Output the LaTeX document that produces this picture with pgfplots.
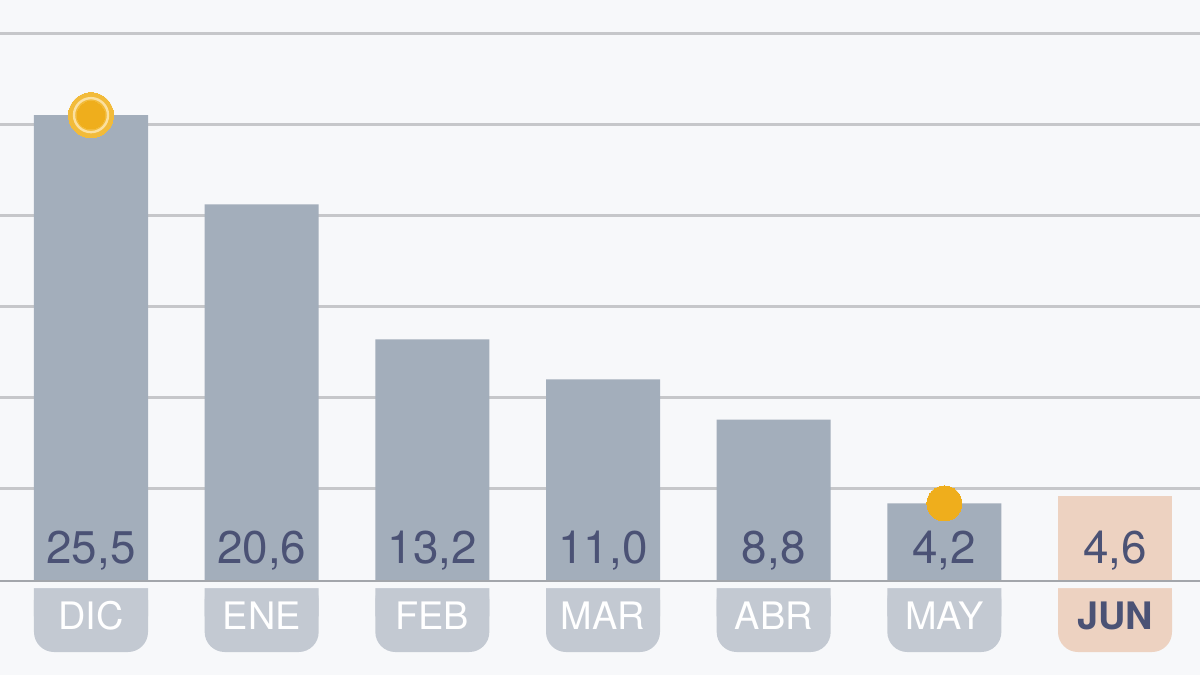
\documentclass[border=0pt]{standalone}
\usepackage{pgfplots}
\pgfplotsset{compat=1.18}
\usepackage{fontspec}
\setmainfont{TeX Gyre Heros}
\definecolor{bgc}{HTML}{F7F8FA}
\definecolor{gridc}{HTML}{C6C7CA}
\definecolor{basec}{HTML}{A3A6AB}
\definecolor{barc}{HTML}{A3AEBB}
\definecolor{tabc}{HTML}{C3C9D2}
\definecolor{junc}{HTML}{EDD2C1}
\definecolor{txtc}{HTML}{4B5275}
\definecolor{orA}{HTML}{F2BB3A}
\definecolor{orB}{HTML}{FBE0A0}
\definecolor{orC}{HTML}{EFAE1C}
\begin{document}
\begin{tikzpicture}[trim axis left, trim axis right]
\begin{axis}[
  scale only axis, width=600bp, height=337.5bp,
  xmin=-0.5332, xmax=6.498, ymin=-5.211, ymax=31.816,
  axis background/.style={fill=bgc},
  axis line style={draw=none}, tick style={draw=none},
  xtick=\empty, ytick={5,10,...,30}, yticklabels={},
  ymajorgrids, grid style={line width=1.5bp, color=gridc},
  clip=false,
]
% tabs (label backgrounds)
\addplot[ybar, bar width=0.668, bar shift=0pt, fill=tabc, draw=none, rounded corners=10bp]
  coordinates {(0,-3.95) (1,-3.95) (2,-3.95) (3,-3.95) (4,-3.95) (5,-3.95)};
\addplot[ybar, bar width=0.668, bar shift=0pt, fill=tabc, draw=none]
  coordinates {(0,-2) (1,-2) (2,-2) (3,-2) (4,-2) (5,-2)};
\addplot[ybar, bar width=0.668, bar shift=0pt, fill=junc, draw=none, rounded corners=10bp]
  coordinates {(6,-3.95)};
\addplot[ybar, bar width=0.668, bar shift=0pt, fill=junc, draw=none]
  coordinates {(6,-2)};
\addplot[ybar, bar width=0.8, bar shift=0pt, fill=bgc, draw=none]
  coordinates {(0,-0.44) (1,-0.44) (2,-0.44) (3,-0.44) (4,-0.44) (5,-0.44) (6,-0.44)};
% bars
\addplot[ybar, bar width=0.668, bar shift=0pt, fill=barc, draw=none]
  coordinates {(0,25.5) (1,20.6) (2,13.2) (3,11.0) (4,8.8) (5,4.2)};
\addplot[ybar, bar width=0.668, bar shift=0pt, fill=junc, draw=none]
  coordinates {(6,4.6)};
% baseline
\addplot[line width=1.4bp, color=basec] coordinates {(-0.5332,-0.06) (6.498,-0.06)};
% value labels
\addplot[draw=none, mark=none, nodes near coords, point meta=explicit symbolic,
  every node near coord/.append style={anchor=base, inner sep=0pt, text=txtc,
    font=\fontsize{23}{27}\selectfont}]
  table[meta=t] {
x y t
0 0.93 25,5
1 0.93 20,6
2 0.93 13,2
3 0.93 11,0
4 0.93 8,8
5 0.93 4,2
6 0.93 4,6
};
% month labels
\addplot[draw=none, mark=none, nodes near coords, point meta=explicit symbolic,
  every node near coord/.append style={anchor=base, inner sep=0pt, text=white,
    font=\fontsize{19}{23}\selectfont}]
  table[meta=t] {
x y t
0 -2.74 DIC
1 -2.74 ENE
2 -2.74 FEB
3 -2.74 MAR
4 -2.74 ABR
5 -2.74 MAY
};
\addplot[draw=none, mark=none, nodes near coords, point meta=explicit symbolic,
  every node near coord/.append style={anchor=base, inner sep=0pt, text=txtc,
    font=\fontsize{19}{23}\selectfont\bfseries}]
  table[meta=t] {
x y t
6 -2.74 JUN
};
% markers
\addplot[color=orA, only marks, mark=*, mark size=11.25bp, mark options={fill=orA, draw=orA, line width=0pt}]
  coordinates {(0,25.5)};
\addplot[color=orB, only marks, mark=o, mark size=8.5bp, mark options={draw=orB, line width=1.2bp}]
  coordinates {(0,25.5)};
\addplot[color=orC, only marks, mark=*, mark size=6.9bp, mark options={fill=orC, draw=orC, line width=0pt}]
  coordinates {(0,25.5)};
\addplot[color=orC, only marks, mark=*, mark size=8.75bp, mark options={fill=orC, draw=orC, line width=0pt}]
  coordinates {(5,4.2)};
\end{axis}
\end{tikzpicture}
\end{document}
